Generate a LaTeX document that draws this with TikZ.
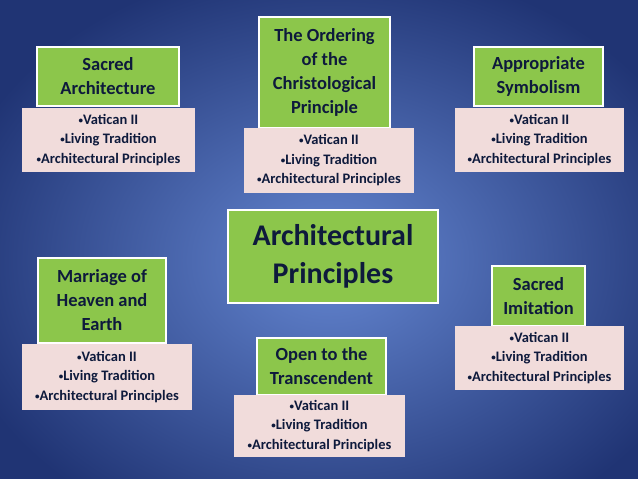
\documentclass[tikz,border=0pt]{standalone}
\usepackage{fontspec}
\setmainfont{Carlito}
\definecolor{gbox}{HTML}{8CC64B}
\definecolor{pbox}{HTML}{F1DCDB}
\definecolor{txt}{HTML}{0E1A3C}
\definecolor{bgin}{HTML}{6587D2}
\definecolor{bgout}{HTML}{203474}
\begin{document}
\begin{tikzpicture}[x=1pt,y=-1pt,
  green/.style={draw=white,line width=1.5pt,fill=gbox,text=txt,font=\bfseries\fontsize{18.5}{24}\selectfont,align=center,inner sep=0pt},
  pink/.style={fill=pbox,text=txt,font=\bfseries\fontsize{14.5}{19.5}\selectfont,align=center,inner sep=0pt}]
\useasboundingbox (0,0) rectangle (638,479);
\begin{scope}
\clip (0,0) rectangle (638,479);
\shade[inner color=bgin,outer color=bgout] (-60,-40) rectangle (720,560);
\end{scope}
\newcommand\blt{{\fontsize{9}{9}\selectfont\raisebox{0.25ex}{•}}}
\newcommand\gb[7]{\node[green,#7,minimum width=#3-#1,minimum height=#4-#2] (#5) at ({(#1+#3)/2},{(#2+#4)/2}) {#6};}
\newcommand\pb[5]{\node[pink,minimum width=#3-#1,minimum height=#4-#2] (#5) at ({(#1+#3)/2},{(#2+#4)/2}) {\blt Vatican II\\\blt Living Tradition\\\blt Architectural Principles};}
\gb{37}{47}{179}{106}{g1}{Sacred\\Architecture}{}
\pb{22}{108}{195}{172}{p1}
\gb{259}{17}{390}{128}{g2}{The Ordering\\of the\\Christological\\Principle}{}
\pb{244}{128}{414}{193}{p2}
\gb{474}{47}{603}{106}{g3}{Appropriate\\Symbolism}{}
\pb{455}{108}{624}{172}{p3}
\gb{228}{210}{438}{303}{g0}{Architectural\\Principles}{font=\bfseries\fontsize{30}{38}\selectfont}
\gb{38}{258}{166}{343}{g4}{Marriage of\\Heaven and\\Earth}{}
\pb{22}{344}{192}{410}{p4}
\gb{257}{338}{386}{395}{g5}{Open to the\\Transcendent}{}
\pb{234}{395}{405}{457}{p5}
\gb{492}{266}{585}{326}{g6}{Sacred\\Imitation}{}
\pb{455}{326}{624}{390}{p6}
\end{tikzpicture}
\end{document}
